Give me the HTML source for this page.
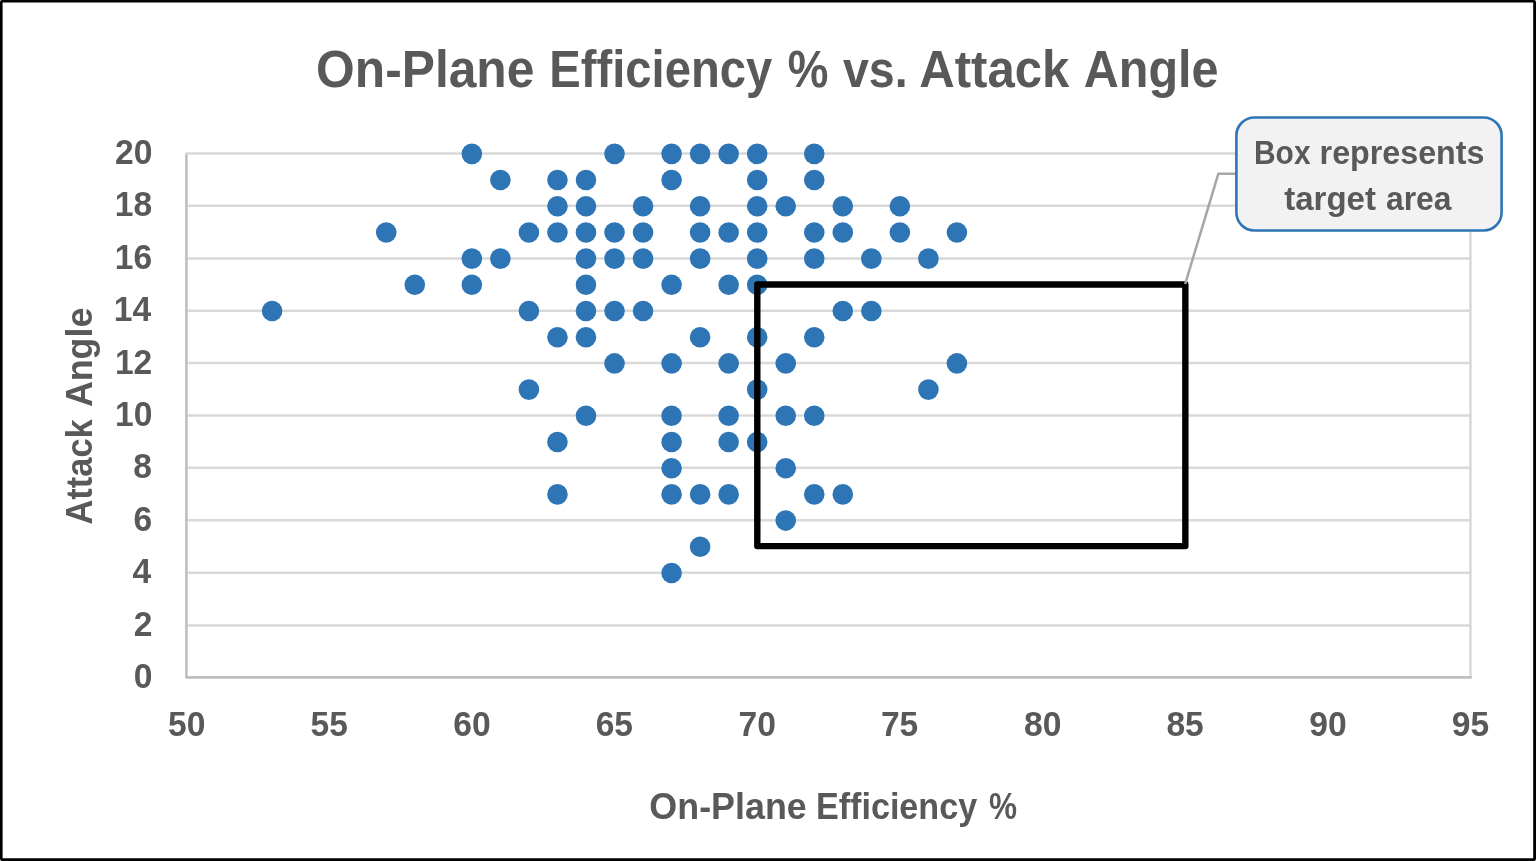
<!DOCTYPE html>
<html lang="en"><head><meta charset="utf-8"><title>On-Plane Efficiency % vs. Attack Angle</title>
<style>html,body{margin:0;padding:0;background:#fff;overflow:hidden}svg{display:block}text{font-family:"Liberation Sans",sans-serif;font-weight:700;fill:#595959}</style></head><body>
<svg width="1536" height="861" viewBox="0 0 1536 861">
<rect x="0" y="0" width="1536" height="861" fill="#fff"/>
<line x1="186.40" x2="1470.45" y1="625.40" y2="625.40" stroke="#d9d9d9" stroke-width="2.5"/>
<line x1="186.40" x2="1470.45" y1="572.70" y2="572.70" stroke="#d9d9d9" stroke-width="2.5"/>
<line x1="186.40" x2="1470.45" y1="520.25" y2="520.25" stroke="#d9d9d9" stroke-width="2.5"/>
<line x1="186.40" x2="1470.45" y1="467.75" y2="467.75" stroke="#d9d9d9" stroke-width="2.5"/>
<line x1="186.40" x2="1470.45" y1="415.50" y2="415.50" stroke="#d9d9d9" stroke-width="2.5"/>
<line x1="186.40" x2="1470.45" y1="362.95" y2="362.95" stroke="#d9d9d9" stroke-width="2.5"/>
<line x1="186.40" x2="1470.45" y1="310.75" y2="310.75" stroke="#d9d9d9" stroke-width="2.5"/>
<line x1="186.40" x2="1470.45" y1="258.45" y2="258.45" stroke="#d9d9d9" stroke-width="2.5"/>
<line x1="186.40" x2="1470.45" y1="205.85" y2="205.85" stroke="#d9d9d9" stroke-width="2.5"/>
<line x1="1470.45" x2="1470.45" y1="153.50" y2="678.40" stroke="#d9d9d9" stroke-width="2.5"/>
<path d="M186.40 153.50 V677.40 H1471.70" fill="none" stroke="#bfbfbf" stroke-width="2.6" stroke-linejoin="round"/>
<line x1="186.40" x2="1470.45" y1="153.50" y2="153.50" stroke="#d9d9d9" stroke-width="2.5" stroke-linecap="round"/>
<g fill="#2e75b6">
<circle cx="471.84" cy="153.85" r="10.3"/>
<circle cx="614.52" cy="153.85" r="10.3"/>
<circle cx="671.59" cy="153.85" r="10.3"/>
<circle cx="700.12" cy="153.85" r="10.3"/>
<circle cx="728.65" cy="153.85" r="10.3"/>
<circle cx="757.19" cy="153.85" r="10.3"/>
<circle cx="814.26" cy="153.85" r="10.3"/>
<circle cx="500.38" cy="180.04" r="10.3"/>
<circle cx="557.45" cy="180.04" r="10.3"/>
<circle cx="585.98" cy="180.04" r="10.3"/>
<circle cx="671.59" cy="180.04" r="10.3"/>
<circle cx="757.19" cy="180.04" r="10.3"/>
<circle cx="814.26" cy="180.04" r="10.3"/>
<circle cx="557.45" cy="206.24" r="10.3"/>
<circle cx="585.98" cy="206.24" r="10.3"/>
<circle cx="643.05" cy="206.24" r="10.3"/>
<circle cx="700.12" cy="206.24" r="10.3"/>
<circle cx="757.19" cy="206.24" r="10.3"/>
<circle cx="785.72" cy="206.24" r="10.3"/>
<circle cx="842.79" cy="206.24" r="10.3"/>
<circle cx="899.86" cy="206.24" r="10.3"/>
<circle cx="386.24" cy="232.44" r="10.3"/>
<circle cx="528.91" cy="232.44" r="10.3"/>
<circle cx="557.45" cy="232.44" r="10.3"/>
<circle cx="585.98" cy="232.44" r="10.3"/>
<circle cx="614.52" cy="232.44" r="10.3"/>
<circle cx="643.05" cy="232.44" r="10.3"/>
<circle cx="700.12" cy="232.44" r="10.3"/>
<circle cx="728.65" cy="232.44" r="10.3"/>
<circle cx="757.19" cy="232.44" r="10.3"/>
<circle cx="814.26" cy="232.44" r="10.3"/>
<circle cx="842.79" cy="232.44" r="10.3"/>
<circle cx="899.86" cy="232.44" r="10.3"/>
<circle cx="956.93" cy="232.44" r="10.3"/>
<circle cx="471.84" cy="258.63" r="10.3"/>
<circle cx="500.38" cy="258.63" r="10.3"/>
<circle cx="585.98" cy="258.63" r="10.3"/>
<circle cx="614.52" cy="258.63" r="10.3"/>
<circle cx="643.05" cy="258.63" r="10.3"/>
<circle cx="700.12" cy="258.63" r="10.3"/>
<circle cx="757.19" cy="258.63" r="10.3"/>
<circle cx="814.26" cy="258.63" r="10.3"/>
<circle cx="871.33" cy="258.63" r="10.3"/>
<circle cx="928.40" cy="258.63" r="10.3"/>
<circle cx="414.78" cy="284.82" r="10.3"/>
<circle cx="471.84" cy="284.82" r="10.3"/>
<circle cx="585.98" cy="284.82" r="10.3"/>
<circle cx="671.59" cy="284.82" r="10.3"/>
<circle cx="728.65" cy="284.82" r="10.3"/>
<circle cx="757.19" cy="284.82" r="10.3"/>
<circle cx="272.10" cy="311.02" r="10.3"/>
<circle cx="528.91" cy="311.02" r="10.3"/>
<circle cx="585.98" cy="311.02" r="10.3"/>
<circle cx="614.52" cy="311.02" r="10.3"/>
<circle cx="643.05" cy="311.02" r="10.3"/>
<circle cx="842.79" cy="311.02" r="10.3"/>
<circle cx="871.33" cy="311.02" r="10.3"/>
<circle cx="557.45" cy="337.22" r="10.3"/>
<circle cx="585.98" cy="337.22" r="10.3"/>
<circle cx="700.12" cy="337.22" r="10.3"/>
<circle cx="757.19" cy="337.22" r="10.3"/>
<circle cx="814.26" cy="337.22" r="10.3"/>
<circle cx="614.52" cy="363.41" r="10.3"/>
<circle cx="671.59" cy="363.41" r="10.3"/>
<circle cx="728.65" cy="363.41" r="10.3"/>
<circle cx="785.72" cy="363.41" r="10.3"/>
<circle cx="956.93" cy="363.41" r="10.3"/>
<circle cx="528.91" cy="389.61" r="10.3"/>
<circle cx="757.19" cy="389.61" r="10.3"/>
<circle cx="928.40" cy="389.61" r="10.3"/>
<circle cx="585.98" cy="415.80" r="10.3"/>
<circle cx="671.59" cy="415.80" r="10.3"/>
<circle cx="728.65" cy="415.80" r="10.3"/>
<circle cx="785.72" cy="415.80" r="10.3"/>
<circle cx="814.26" cy="415.80" r="10.3"/>
<circle cx="557.45" cy="442.00" r="10.3"/>
<circle cx="671.59" cy="442.00" r="10.3"/>
<circle cx="728.65" cy="442.00" r="10.3"/>
<circle cx="757.19" cy="442.00" r="10.3"/>
<circle cx="671.59" cy="468.19" r="10.3"/>
<circle cx="785.72" cy="468.19" r="10.3"/>
<circle cx="557.45" cy="494.38" r="10.3"/>
<circle cx="671.59" cy="494.38" r="10.3"/>
<circle cx="700.12" cy="494.38" r="10.3"/>
<circle cx="728.65" cy="494.38" r="10.3"/>
<circle cx="814.26" cy="494.38" r="10.3"/>
<circle cx="842.79" cy="494.38" r="10.3"/>
<circle cx="785.72" cy="520.58" r="10.3"/>
<circle cx="700.12" cy="546.77" r="10.3"/>
<circle cx="671.59" cy="572.97" r="10.3"/>
</g>
<rect x="757.3" y="284.45" width="428.05" height="261.65" fill="none" stroke="#000" stroke-width="6.4" stroke-linejoin="round"/>
<polyline points="1236,173.8 1218.3,173.8 1185.2,284" fill="none" stroke="#a6a6a6" stroke-width="2.5" stroke-linejoin="round"/>
<rect x="1236.4" y="117.5" width="265.2" height="113.0" rx="18" ry="18" fill="#f2f2f2" stroke="#2e75b6" stroke-width="2.6"/>
<text transform="translate(316.11 86.90) scale(0.9612 1)" font-size="51.74">On-Plane</text>
<text transform="translate(549.35 86.90) scale(0.9118 1)" font-size="51.74">Efficiency</text>
<text transform="translate(787.68 86.90) scale(0.8846 1)" font-size="51.74">%</text>
<text transform="translate(842.99 86.90) scale(0.8991 1)" font-size="51.74">vs.</text>
<text transform="translate(919.29 86.90) scale(0.9491 1)" font-size="51.74">Attack</text>
<text transform="translate(1083.71 86.90) scale(0.9383 1)" font-size="51.74">Angle</text>
<text transform="translate(649.37 818.70) scale(0.9489 1)" font-size="37.79">On-Plane</text>
<text transform="translate(815.92 818.70) scale(0.9037 1)" font-size="37.79">Efficiency</text>
<text transform="translate(989.06 818.70) scale(0.8348 1)" font-size="37.79">%</text>
<text transform="translate(92.00 524.62) rotate(-90) scale(0.9126 1)" font-size="37.79">Attack</text>
<text transform="translate(92.00 407.05) rotate(-90) scale(0.9468 1)" font-size="37.79">Angle</text>
<text transform="translate(1254.00 164.20) scale(0.8880 1)" font-size="33.72">Box</text>
<text transform="translate(1319.60 164.20) scale(0.9563 1)" font-size="33.72">represents</text>
<text transform="translate(1284.26 209.90) scale(0.9791 1)" font-size="33.72">target</text>
<text transform="translate(1385.95 209.90) scale(0.9436 1)" font-size="33.72">area</text>
<text transform="translate(133.63 687.90) scale(0.98 1)" font-size="34.3">0</text>
<text transform="translate(133.63 635.51) scale(0.98 1)" font-size="34.3">2</text>
<text transform="translate(132.51 583.12) scale(0.98 1)" font-size="34.3">4</text>
<text transform="translate(133.52 530.73) scale(0.98 1)" font-size="34.3">6</text>
<text transform="translate(133.30 478.34) scale(0.98 1)" font-size="34.3">8</text>
<text transform="translate(115.03 425.95) scale(0.98 1)" font-size="34.3">10</text>
<text transform="translate(114.92 373.56) scale(0.98 1)" font-size="34.3">12</text>
<text transform="translate(113.80 321.17) scale(0.98 1)" font-size="34.3">14</text>
<text transform="translate(114.81 268.78) scale(0.98 1)" font-size="34.3">16</text>
<text transform="translate(114.70 216.39) scale(0.98 1)" font-size="34.3">18</text>
<text transform="translate(115.03 164.00) scale(0.98 1)" font-size="34.3">20</text>
<text transform="translate(168.01 736.15) scale(0.98 1)" font-size="34.3">50</text>
<text transform="translate(310.46 736.15) scale(0.98 1)" font-size="34.3">55</text>
<text transform="translate(453.24 736.15) scale(0.98 1)" font-size="34.3">60</text>
<text transform="translate(595.69 736.15) scale(0.98 1)" font-size="34.3">65</text>
<text transform="translate(738.48 736.15) scale(0.98 1)" font-size="34.3">70</text>
<text transform="translate(880.93 736.15) scale(0.98 1)" font-size="34.3">75</text>
<text transform="translate(1023.99 736.15) scale(0.98 1)" font-size="34.3">80</text>
<text transform="translate(1166.44 736.15) scale(0.98 1)" font-size="34.3">85</text>
<text transform="translate(1309.33 736.15) scale(0.98 1)" font-size="34.3">90</text>
<text transform="translate(1451.78 736.15) scale(0.98 1)" font-size="34.3">95</text>
<path d="M2 0H1534A2 2 0 0 1 1536 2V859A2 2 0 0 1 1534 861H2A2 2 0 0 1 0 859V2A2 2 0 0 1 2 0Z M2.6 2.5V858.2H1533.2V2.5Z" fill="#000" fill-rule="evenodd"/>
</svg></body></html>
